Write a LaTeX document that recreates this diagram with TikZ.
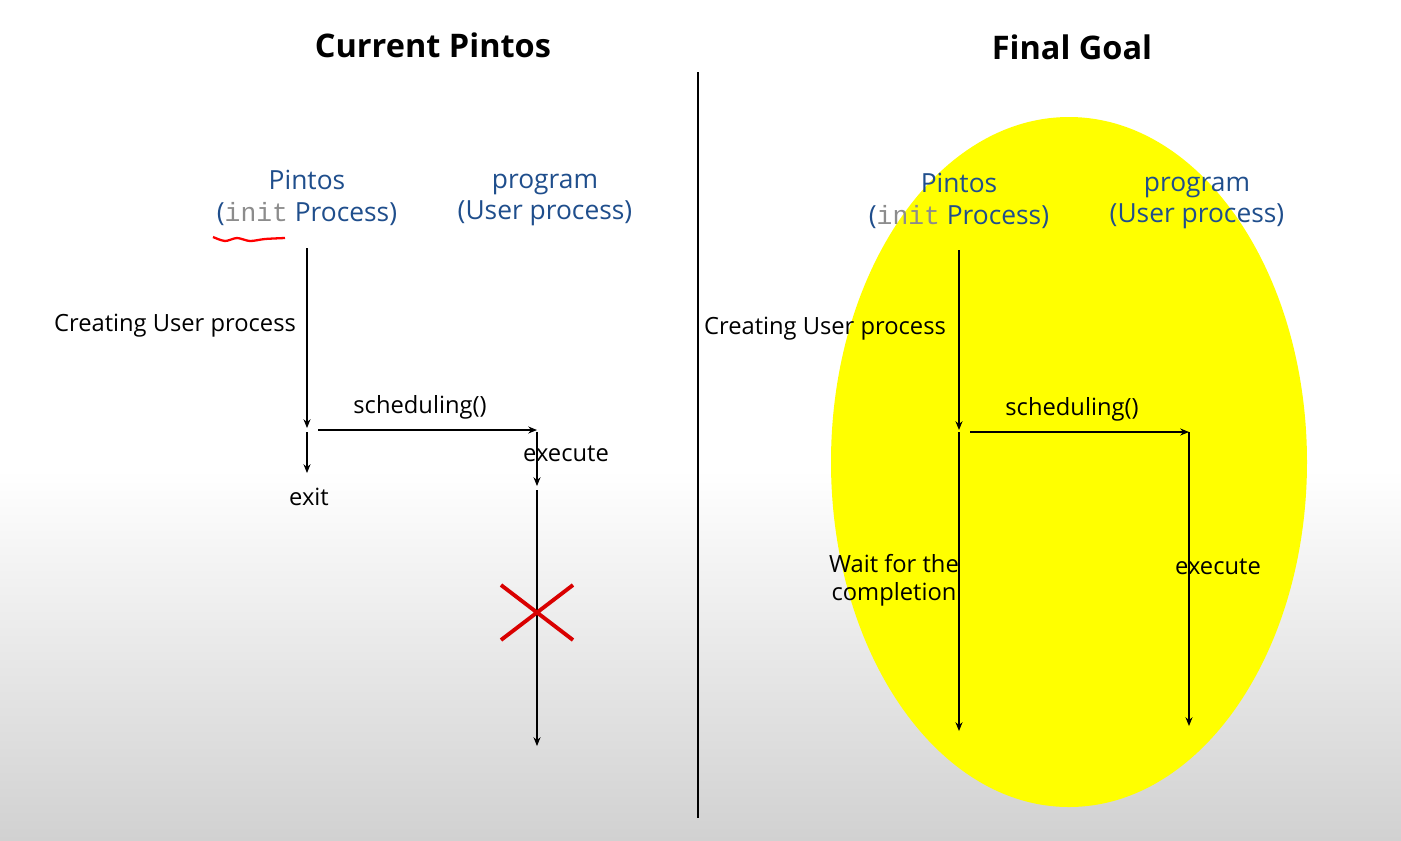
\documentclass[tikz,border=0pt]{standalone}
\usepackage{fontspec}
\setmainfont{Open Sans}
\setmonofont{Liberation Mono}
\usetikzlibrary{arrows.meta}
\definecolor{bl}{HTML}{1F4E8C}
\definecolor{yl}{HTML}{FFFF00}
\tikzset{
 lab/.style={font=\fontsize{13.5}{16}\selectfont},
 hd/.style={font=\bfseries\fontsize{18.5}{20}\selectfont},
 pr/.style={font=\fontsize{15}{18}\selectfont,text=bl,align=center},
 ar/.style={-{Stealth[length=5pt,width=4pt]},line width=0.6pt},
}
\begin{document}
\begin{tikzpicture}[x=0.02cm,y=-0.02cm]
\useasboundingbox (0,0) rectangle (1401,840);
\fill[white] (0,0) rectangle (1401,470);
\shade[top color=white,bottom color=black!18] (0,470) rectangle (1401,840);
\node[hd] (t1) at (433,45) {Current Pintos};
\node[hd] (t2) at (1072,47) {Final Goal};
\coordinate (s1) at (698,72); \coordinate (s2) at (698,818);
\draw[line width=1.2pt] (s1) -- (s2);
% left
\node[pr] (p1) at (307,198) {Pintos\\({\ttfamily\color{black!45}init} Process)};
\node[pr] (u1) at (545,200) {program\\(User process)};
\draw[red,line width=1.3pt] plot[smooth] coordinates {(213,237) (225,241) (237,238) (250,241) (265,239) (285,238)};
\coordinate (a1) at (307,248); \coordinate (a2) at (307,428);
\draw[ar] (a1) -- (a2);
\node[lab] (c1) at (175,326) {Creating User process};
\coordinate (h1) at (318,430); \coordinate (h2) at (537,430);
\draw[ar] (h1) -- (h2);
\node[lab] (sc1) at (420,407) {scheduling()};
\coordinate (e1) at (307,432); \coordinate (e2) at (307,473);
\draw[ar] (e1) -- (e2);
\node[lab] (ex) at (309,497) {exit};
\coordinate (x1) at (537,432); \coordinate (x2) at (537,486);
\draw[ar] (x1) -- (x2);
\node[lab] (exe1) at (566,454) {execute};
\coordinate (y1) at (537,490); \coordinate (y2) at (537,746);
\draw[ar] (y1) -- (y2);
\draw[red!85!black,line width=2.2pt] (501,585) -- (573,640) (573,585) -- (501,640);
% right
\fill[yl] (1069,462) ellipse [x radius=238, y radius=345];
\node[pr] (p2) at (959,201) {Pintos\\({\ttfamily\color{black!45}init} Process)};
\node[pr] (u2) at (1197,203) {program\\(User process)};
\coordinate (b1) at (959,250); \coordinate (b2) at (959,430);
\draw[ar] (b1) -- (b2);
\node[lab] (c2) at (825,329) {Creating User process};
\coordinate (b3) at (959,432); \coordinate (b4) at (959,731);
\draw[ar] (b3) -- (b4);
\coordinate (g1) at (970,432); \coordinate (g2) at (1189,432);
\draw[ar] (g1) -- (g2);
\node[lab] (sc2) at (1072,409) {scheduling()};
\coordinate (k1) at (1189,432); \coordinate (k2) at (1189,726);
\draw[ar] (k1) -- (k2);
\node[lab] (exe2) at (1218,567) {execute};
\node[lab,align=center] (w) at (894,580) {Wait for the\\completion};
\end{tikzpicture}
\end{document}
